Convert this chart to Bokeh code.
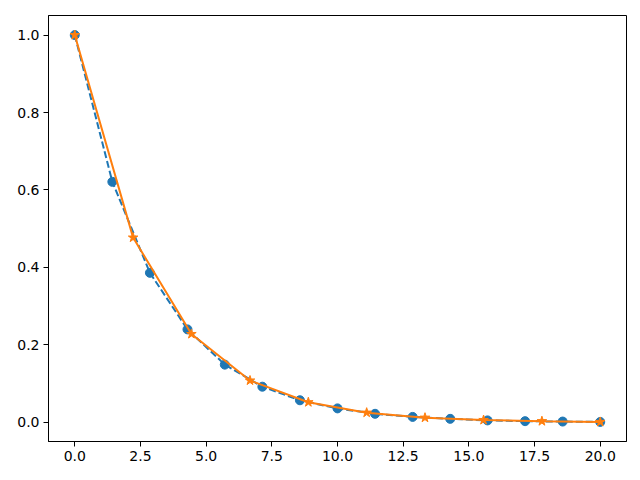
from bokeh.plotting import figure
from bokeh.embed import file_html
from bokeh.resources import INLINE
from bokeh.models import FixedTicker, NumeralTickFormatter, Range1d

# Data
x_points = [0.0, 1.43, 2.86, 4.29, 5.71, 7.14, 8.57, 10.0, 11.43, 12.86, 14.29, 15.71, 17.14, 18.57, 20.0]
y_points = [1.0, 0.621, 0.386, 0.240, 0.149, 0.092, 0.057, 0.036, 0.022, 0.014, 0.009, 0.005, 0.003, 0.002, 0.001]

x_stars = [0.0, 2.22, 4.44, 6.67, 8.89, 11.11, 13.33, 15.56, 17.78, 20.0]
y_stars = [1.0, 0.477, 0.228, 0.108, 0.052, 0.025, 0.012, 0.006, 0.003, 0.001]

x_ticks = [0.0, 2.5, 5.0, 7.5, 10.0, 12.5, 15.0, 17.5, 20.0]
y_ticks = [0.0, 0.2, 0.4, 0.6, 0.8, 1.0]

BLUE = "#1f77b4"
ORANGE = "#ff7f0e"

p = figure(output_backend="svg", toolbar_location=None,
           frame_width=578, frame_height=426,
           min_border_left=48, min_border_top=15, min_border_right=8, min_border_bottom=30,
           x_range=Range1d(-1.0, 21.0), y_range=Range1d(-0.0495, 1.0505))
p.background_fill_color = "white"
p.border_fill_color = "white"
p.outline_line_color = "black"
p.outline_line_width = 1
p.grid.visible = False

for ax in (p.xaxis[0], p.yaxis[0]):
    ax.major_tick_out = 5
    ax.major_tick_in = 0
    ax.minor_tick_line_color = None
    ax.major_label_text_font = "DejaVu Sans"
    ax.major_label_text_font_size = "14px"
    ax.major_label_text_color = "black"
    ax.axis_line_color = "black"
    ax.major_tick_line_color = "black"
    ax.formatter = NumeralTickFormatter(format="0.0")

p.xaxis[0].ticker = FixedTicker(ticks=x_ticks)
p.yaxis[0].ticker = FixedTicker(ticks=y_ticks)
p.xaxis[0].major_label_standoff = 4
p.yaxis[0].major_label_standoff = 4

p.line(x_points, y_points, line_color=BLUE, line_width=2, line_dash="7 3")
p.scatter(x_points, y_points, marker="circle", size=9, fill_color=BLUE, line_color=BLUE)

p.line(x_stars, y_stars, line_color=ORANGE, line_width=2)
p.scatter(x_stars, y_stars, marker="star", size=10, fill_color=ORANGE, line_color=ORANGE)

open("out.html", "w").write(file_html(p, INLINE))
